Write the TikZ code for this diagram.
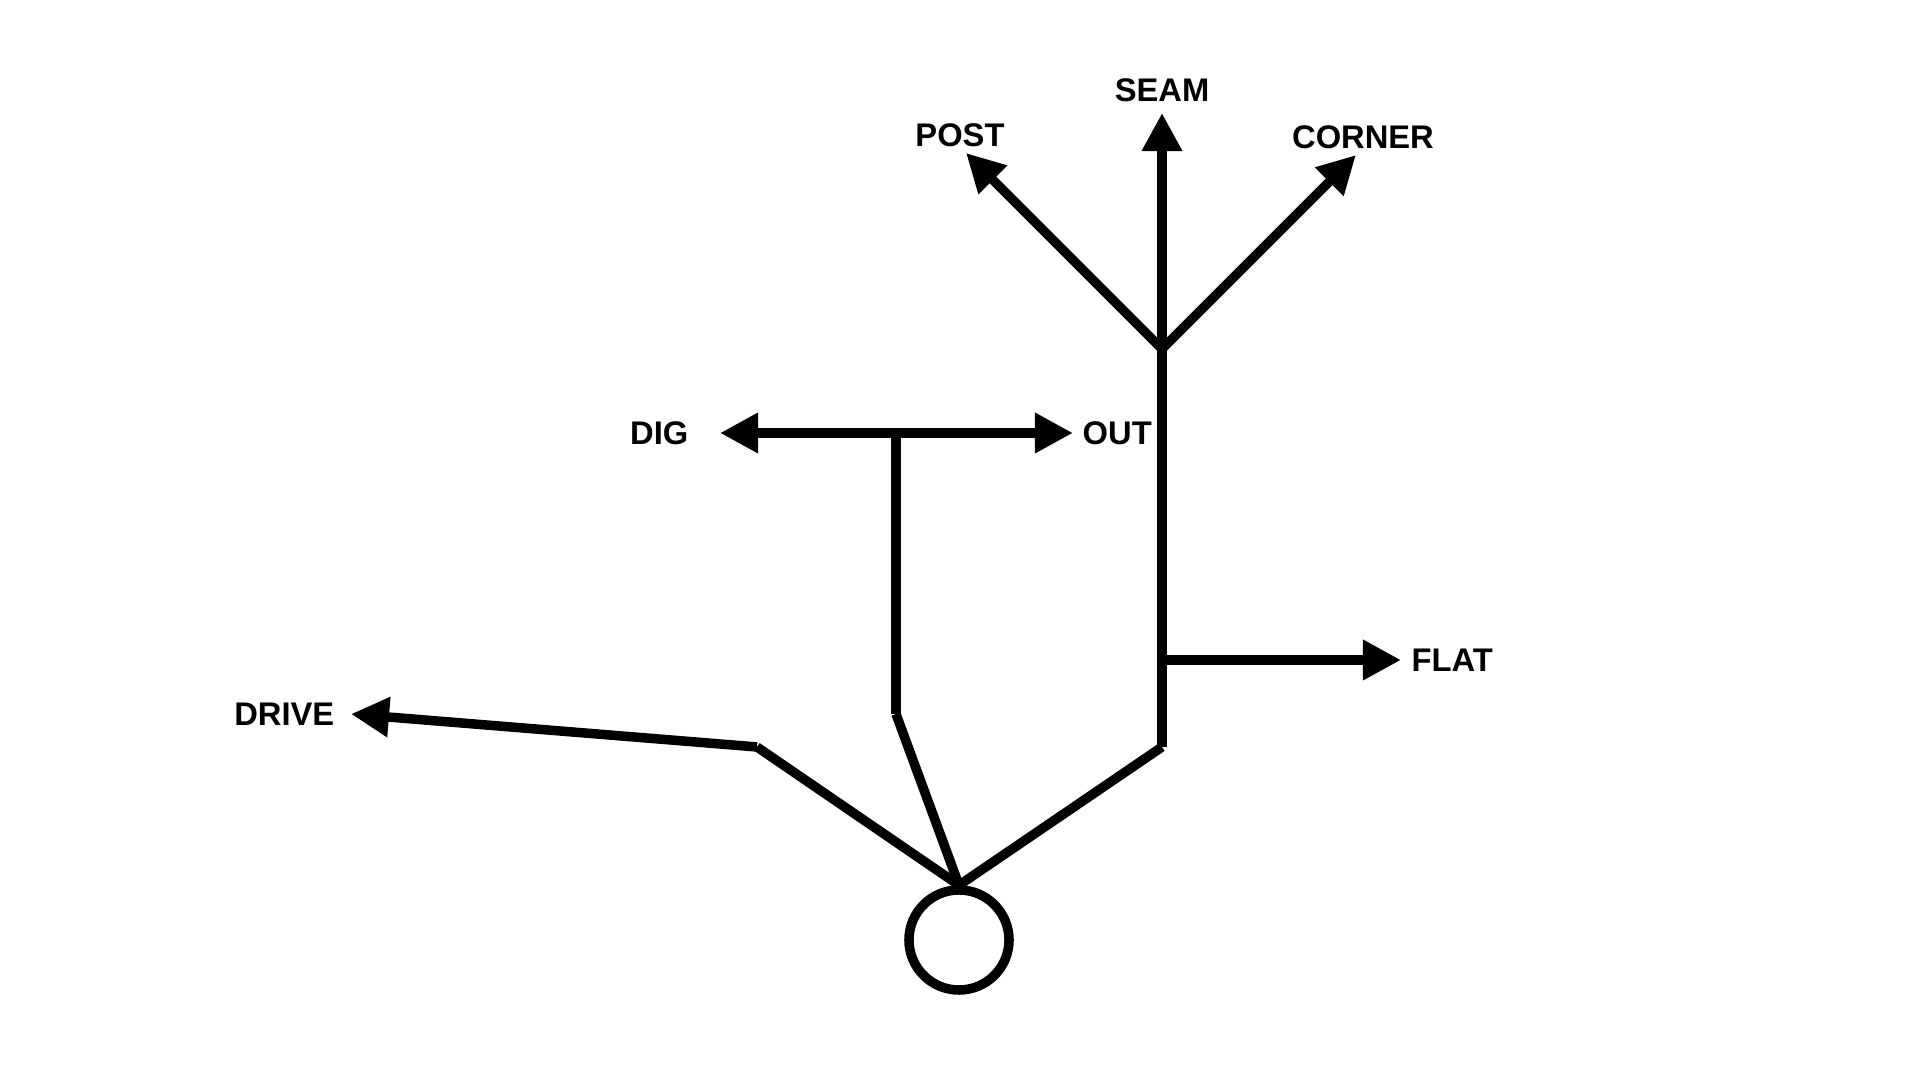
\documentclass[tikz,border=0pt]{standalone}
\usepackage{fontspec}
\setmainfont{Liberation Sans}
\usetikzlibrary{positioning,arrows.meta}

\begin{document}
\begin{tikzpicture}[x=0.01cm,y=-0.01cm,>={Triangle[length=0.38cm,width=0.38cm]},
  wire/.style={line width=0.095cm},
  lbl/.style={inner sep=0pt,font=\fontsize{9.3}{10}\selectfont\bfseries}]
  \useasboundingbox (0,0) rectangle (1920,1080);
  \node[circle,draw,line width=0.095cm,minimum size=1cm,inner sep=0pt] (ring) at (959,940) {};
  % bends and junctions
  \coordinate (kL) at (757,747);
  \coordinate (kM) at (896,714);
  \coordinate (kR) at (1162,747);
  \coordinate (tee) at (896,433);
  \coordinate (fork) at (1162,349);
  \coordinate (flatJ) at (1162,660);
  % arrow tips
  \coordinate (tDrive) at (351,714);
  \coordinate (tDig) at (720,433);
  \coordinate (tOut) at (1073,433);
  \coordinate (tFlat) at (1401,660);
  \coordinate (tSeam) at (1162,113);
  \coordinate (tPost) at (966,153);
  \coordinate (tCorner) at (1356,155);
  % labels
  \node[lbl,left=0.16cm of tDrive] (drive) {DRIVE};
  \node[lbl,left=0.31cm of tDig] (dig) {DIG};
  \node[lbl,right=0.09cm of tOut] (out) {OUT};
  \node[lbl,right=0.1cm of tFlat] (flat) {FLAT};
  \node[lbl,above=0.1cm of tSeam] (seam) {SEAM};
  \node[lbl,above=0.05cm of tPost,xshift=-0.06cm] (post) {POST};
  \node[lbl,above=0.05cm of tCorner,xshift=0.07cm] (corner) {CORNER};
  % connectors
  \draw[wire] (ring.north) -- (kL);
  \draw[wire] (ring.north) -- (kM);
  \draw[wire] (ring.north) -- (kR);
  \draw[wire,->] (kL) -- (tDrive);
  \draw[wire] (kM) -- (tee);
  \draw[wire,<->] (tDig) -- (tOut);
  \draw[wire] (kR) -- (fork);
  \draw[wire,->] (flatJ) -- (tFlat);
  \draw[wire,->] (fork) -- (tSeam);
  \draw[wire,->] (fork) -- (tPost);
  \draw[wire,->] (fork) -- (tCorner);
\end{tikzpicture}
\end{document}
